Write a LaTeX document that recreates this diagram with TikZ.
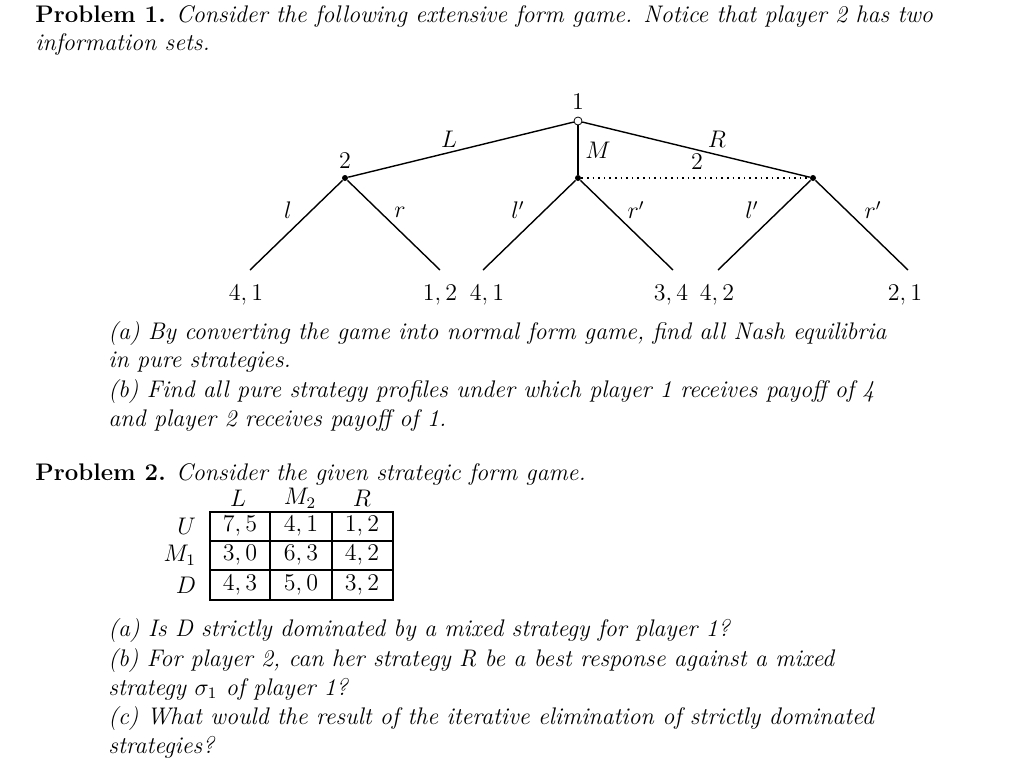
\documentclass[tikz,border=0pt]{standalone}
\begin{document}
\begin{tikzpicture}[x=0.5pt,y=-0.5pt,font=\fontsize{12}{14}\selectfont,
 ln/.style={anchor=west,inner sep=0pt},
 dot/.style={circle,fill,inner sep=0pt,minimum size=3pt},
 br/.style={line width=0.7pt}]
\useasboundingbox (0,0) rectangle (1024,777);
\node[ln] at (35,16) {\textbf{Problem 1.} \textit{Consider the following extensive form game. Notice that player 2 has two}};
\node[ln] at (35,44) {\textit{information sets.}};
% tree
\node[circle,draw,fill=white,inner sep=0pt,minimum size=4pt] (r) at (578,121) {};
\node at (578,102) {1};
\node[dot] (a) at (345,178) {};
\node[dot] (b) at (578,178) {};
\node[dot] (c) at (813,178) {};
\node at (345,161) {2};
\draw[br] (r) -- (a); \draw[br] (r) -- (b); \draw[br] (r) -- (c);
\draw[dotted,thick] (b) -- (c);
\node at (697,162) {2};
\node at (449,139) {$L$}; \node at (598,150) {$M$}; \node at (717,139) {$R$};
\coordinate (a1) at (250,270); \coordinate (a2) at (440,270);
\coordinate (b1) at (483,270); \coordinate (b2) at (673,270);
\coordinate (c1) at (718,270); \coordinate (c2) at (908,270);
\draw[br] (a)--(a1); \draw[br] (a)--(a2); \draw[br] (b)--(b1); \draw[br] (b)--(b2); \draw[br] (c)--(c1); \draw[br] (c)--(c2);
\node at (288,210) {$l$}; \node at (400,212) {$r$};
\node at (518,210) {$l'$}; \node at (636,210) {$r'$};
\node at (752,210) {$l'$}; \node at (873,210) {$r'$};
\node at (246,295) {$4,1$}; \node at (440,295) {$1,2$}; \node at (487,295) {$4,1$};
\node at (671,295) {$3,4$}; \node at (717,295) {$4,2$}; \node at (905,295) {$2,1$};
\node[ln] at (108,334) {\textit{(a) By converting the game into normal form game, find all Nash equilibria}};
\node[ln] at (108,362) {\textit{in pure strategies.}};
\node[ln] at (108,392) {\textit{(b) Find all pure strategy profiles under which player 1 receives payoff of 4}};
\node[ln] at (108,420) {\textit{and player 2 receives payoff of 1.}};
\node[ln] at (35,474) {\textbf{Problem 2.} \textit{Consider the given strategic form game.}};
% table
\node at (238,498) {$L$}; \node at (300,498) {$M_2$}; \node at (362,498) {$R$};
\node[anchor=east] at (203,526) {$U$}; \node[anchor=east] at (203,555) {$M_1$}; \node[anchor=east] at (203,585) {$D$};
\draw[br] (210,512) rectangle (393,600);
\draw[br] (270,512)--(270,600); \draw[br] (332,512)--(332,600);
\draw[br] (210,541)--(393,541); \draw[br] (210,570)--(393,570);
\node at (240,526) {$7,5$}; \node at (301,526) {$4,1$}; \node at (362,526) {$1,2$};
\node at (240,555) {$3,0$}; \node at (301,555) {$6,3$}; \node at (362,555) {$4,2$};
\node at (240,585) {$4,3$}; \node at (301,585) {$5,0$}; \node at (362,585) {$3,2$};
\node[ln] at (108,631) {\textit{(a) Is D strictly dominated by a mixed strategy for player 1?}};
\node[ln] at (108,661) {\textit{(b) For player 2, can her strategy R be a best response against a mixed}};
\node[ln] at (108,689) {\textit{strategy $\sigma_1$ of player 1?}};
\node[ln] at (108,719) {\textit{(c) What would the result of the iterative elimination of strictly dominated}};
\node[ln] at (108,747) {\textit{strategies?}};
\end{tikzpicture}
\end{document}
